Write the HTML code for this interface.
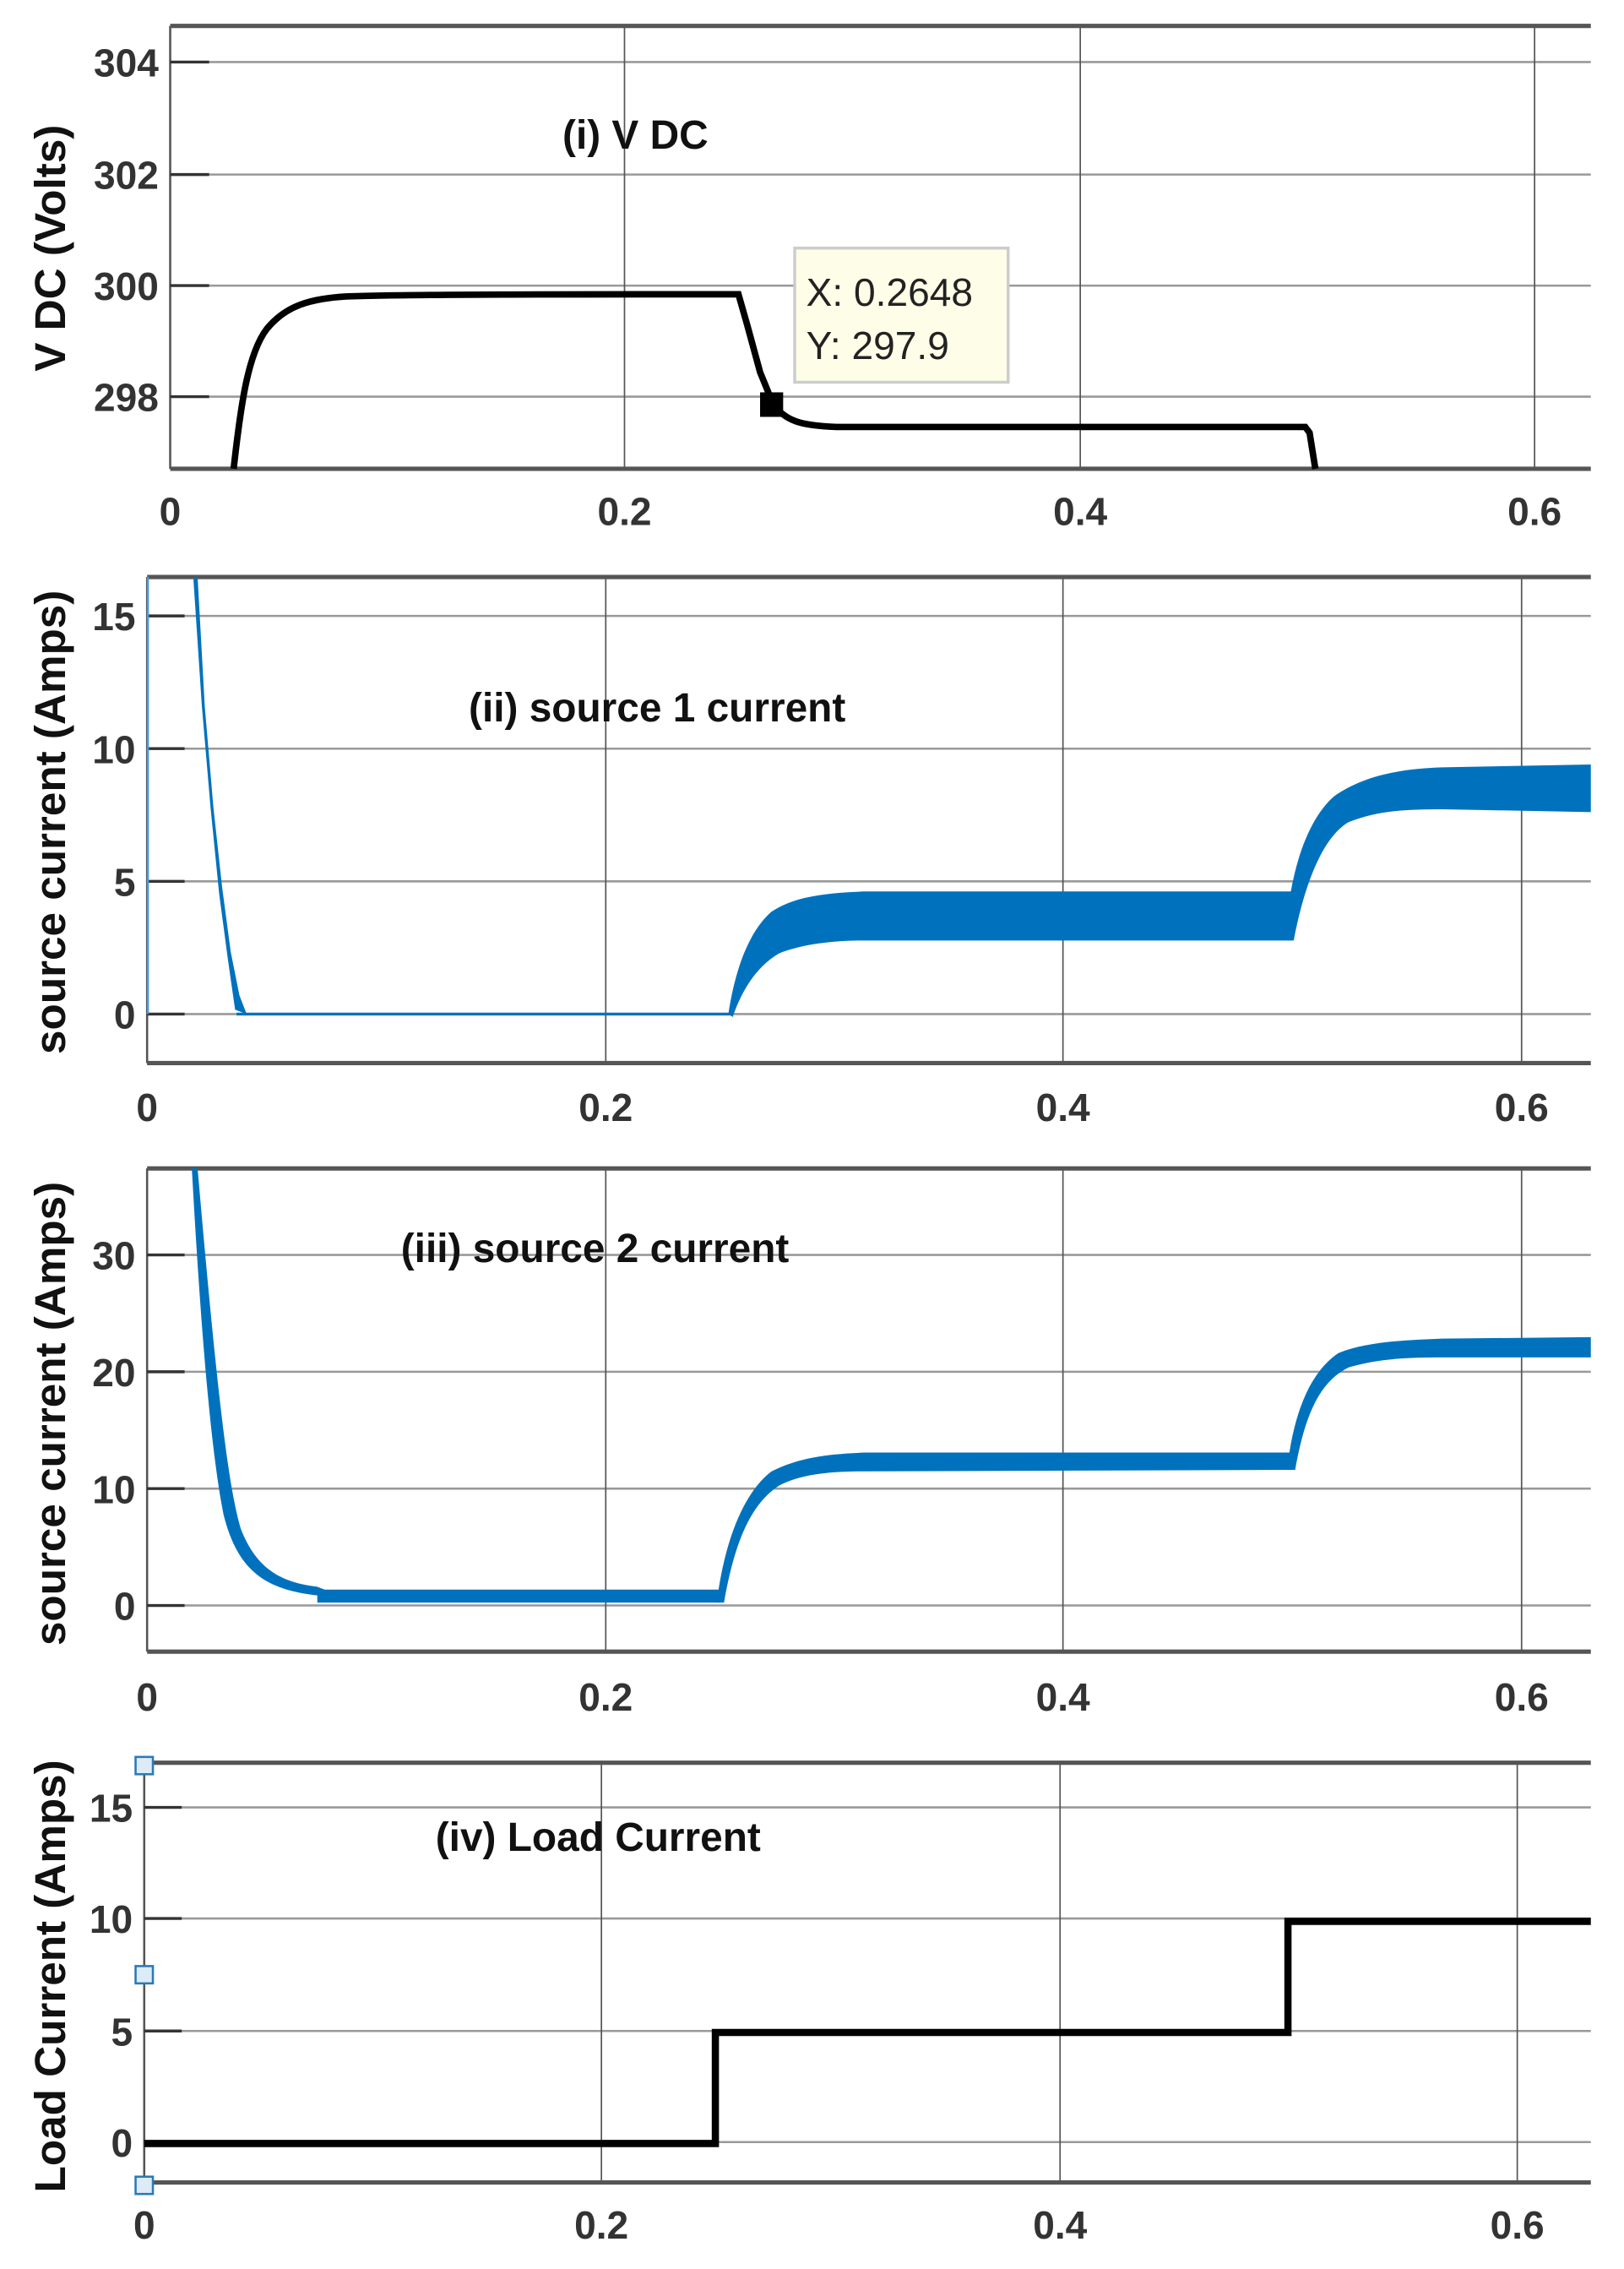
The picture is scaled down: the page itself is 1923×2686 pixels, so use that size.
<!DOCTYPE html>
<html><head><meta charset="utf-8"><style>
html,body{margin:0;padding:0;background:#fff;}
svg{display:block;}
text{font-family:"Liberation Sans",Arial,sans-serif;}
.t{font-size:27px;font-weight:bold;fill:#333;}
.tt{font-size:28px;font-weight:bold;fill:#111;}
.yl{font-size:30px;font-weight:bold;fill:#111;}
.g{stroke:#999;stroke-width:1.5;fill:none;}
.gv{stroke:#555;stroke-width:1;fill:none;}
.ax{stroke:#555;stroke-width:3;fill:none;}
</style></head><body>
<svg width="1923" height="2686" viewBox="0 0 1126 1573" preserveAspectRatio="none" xmlns="http://www.w3.org/2000/svg">
<!-- Panel 1 -->
<g>
<line class="g" x1="118" y1="43" x2="1103" y2="43"/><line class="g" x1="118" y1="121" x2="1103" y2="121"/>
<line class="g" x1="118" y1="198" x2="1103" y2="198"/><line class="g" x1="118" y1="275" x2="1103" y2="275"/>
<line class="gv" x1="433" y1="18" x2="433" y2="325"/><line class="gv" x1="749" y1="18" x2="749" y2="325"/><line class="gv" x1="1064" y1="18" x2="1064" y2="325"/>
<line class="ax" x1="118" y1="18" x2="1103" y2="18"/><line class="ax" x1="118" y1="325" x2="1103" y2="325"/><line stroke="#555" stroke-width="1.5" x1="118" y1="18" x2="118" y2="325"/>
<g stroke="#333" stroke-width="2"><line x1="118" y1="43" x2="145" y2="43"/><line x1="118" y1="121" x2="145" y2="121"/><line x1="118" y1="198" x2="145" y2="198"/><line x1="118" y1="275" x2="145" y2="275"/></g>
<g class="t" text-anchor="end"><text x="110" y="53">304</text><text x="110" y="131">302</text><text x="110" y="208">300</text><text x="110" y="285">298</text></g>
<g class="t" text-anchor="middle"><text x="118" y="364">0</text><text x="433" y="364">0.2</text><text x="749" y="364">0.4</text><text x="1064" y="364">0.6</text></g>
<path d="M162,325 C167,280 172,245 185,228 C198,212 215,207 240,205.5 C280,204 400,204 512,204 L518,225 L527,258 L536,280 C545,292 555,295 580,296 L905,296 L908,300 L912,325" stroke="#000" stroke-width="4.5" fill="none"/>
<rect x="551" y="172" width="148" height="93" fill="#fdfde8" stroke="#ccc" stroke-width="2"/>
<text x="559" y="212" style="font-size:27px;fill:#222">X: 0.2648</text>
<text x="559" y="249" style="font-size:27px;fill:#222">Y: 297.9</text>
<rect x="527" y="272" width="16" height="17" fill="#000"/>
<text class="tt" x="390" y="103">(i) V DC</text>
<text class="yl" transform="translate(45,172) rotate(-90)" text-anchor="middle">V DC (Volts)</text>
</g>
<!-- Panel 2 -->
<g>
<line class="g" x1="102" y1="427" x2="1103" y2="427"/><line class="g" x1="102" y1="519" x2="1103" y2="519"/>
<line class="g" x1="102" y1="611" x2="1103" y2="611"/><line class="g" x1="102" y1="703" x2="1103" y2="703"/>
<line class="gv" x1="420" y1="400" x2="420" y2="737"/><line class="gv" x1="737" y1="400" x2="737" y2="737"/><line class="gv" x1="1055" y1="400" x2="1055" y2="737"/>
<line class="ax" x1="102" y1="400" x2="1103" y2="400"/><line class="ax" x1="102" y1="737" x2="1103" y2="737"/><line stroke="#555" stroke-width="1.5" x1="102" y1="400" x2="102" y2="737"/>
<g stroke="#333" stroke-width="2"><line x1="102" y1="427" x2="128" y2="427"/><line x1="102" y1="519" x2="128" y2="519"/><line x1="102" y1="611" x2="128" y2="611"/><line x1="102" y1="703" x2="128" y2="703"/></g>
<g class="t" text-anchor="end"><text x="94" y="437">15</text><text x="94" y="529">10</text><text x="94" y="621">5</text><text x="94" y="713">0</text></g>
<g class="t" text-anchor="middle"><text x="102" y="777">0</text><text x="420" y="777">0.2</text><text x="737" y="777">0.4</text><text x="1055" y="777">0.6</text></g>
<line x1="102.5" y1="400" x2="102.5" y2="703" stroke="#4a9ad8" stroke-width="1.5"/>
<path d="M134,400 L140,490 L146,560 L152,620 L158,665 L163,700 L171,703 L166,690 L160,660 L154,615 L148,560 L142,490 L137,400 Z" fill="#0072BD"/>
<line x1="164" y1="703" x2="508" y2="703" stroke="#0072BD" stroke-width="2"/>
<path d="M505,703 C510,670 520,645 535,632 C550,622 570,619 600,618 L895,618 C900,590 910,565 925,552 C945,538 970,533 1000,532 L1103,530 L1103,563 L1000,561 C975,561 955,562 935,570 C918,580 905,610 897,652 L600,652 C575,652 555,655 540,661 C525,670 515,685 508,705 Z" fill="#0072BD"/>
<text class="tt" x="325" y="500">(ii) source 1 current</text>
<text class="yl" transform="translate(45,570) rotate(-90)" text-anchor="middle">source current (Amps)</text>
</g>
<!-- Panel 3 -->
<g>
<line class="g" x1="102" y1="870" x2="1103" y2="870"/><line class="g" x1="102" y1="951" x2="1103" y2="951"/>
<line class="g" x1="102" y1="1032" x2="1103" y2="1032"/><line class="g" x1="102" y1="1113" x2="1103" y2="1113"/>
<line class="gv" x1="420" y1="810" x2="420" y2="1145"/><line class="gv" x1="737" y1="810" x2="737" y2="1145"/><line class="gv" x1="1055" y1="810" x2="1055" y2="1145"/>
<line class="ax" x1="102" y1="810" x2="1103" y2="810"/><line class="ax" x1="102" y1="1145" x2="1103" y2="1145"/><line stroke="#555" stroke-width="1.5" x1="102" y1="810" x2="102" y2="1145"/>
<g stroke="#333" stroke-width="2"><line x1="102" y1="870" x2="128" y2="870"/><line x1="102" y1="951" x2="128" y2="951"/><line x1="102" y1="1032" x2="128" y2="1032"/><line x1="102" y1="1113" x2="128" y2="1113"/></g>
<g class="t" text-anchor="end"><text x="94" y="880">30</text><text x="94" y="961">20</text><text x="94" y="1042">10</text><text x="94" y="1123">0</text></g>
<g class="t" text-anchor="middle"><text x="102" y="1186">0</text><text x="420" y="1186">0.2</text><text x="737" y="1186">0.4</text><text x="1055" y="1186">0.6</text></g>
<path d="M133,810 C138,900 145,1000 155,1050 C165,1090 185,1102 220,1106 L230,1104 L220,1100 C195,1097 178,1088 167,1060 C158,1030 150,960 137,810 Z" fill="#0072BD"/>
<path d="M220,1102 L499,1102 L499,1111 L220,1111 Z" fill="#0072BD"/>
<path d="M497,1111 C502,1070 515,1035 535,1020 C555,1010 575,1008 600,1007 L894,1007 C899,975 910,950 928,938 C948,930 975,929 1000,928 L1103,927 L1103,941 L1000,941 C975,941 955,942 935,948 C915,958 905,980 898,1019 L600,1020 C575,1020 555,1022 540,1030 C522,1042 510,1065 502,1111 Z" fill="#0072BD"/>
<text class="tt" x="278" y="875">(iii) source 2 current</text>
<text class="yl" transform="translate(45,980) rotate(-90)" text-anchor="middle">source current (Amps)</text>
</g>
<!-- Panel 4 -->
<g>
<line class="g" x1="100" y1="1253" x2="1103" y2="1253"/><line class="g" x1="100" y1="1330" x2="1103" y2="1330"/>
<line class="g" x1="100" y1="1408" x2="1103" y2="1408"/><line class="g" x1="100" y1="1485" x2="1103" y2="1485"/>
<line class="gv" x1="417" y1="1222" x2="417" y2="1513"/><line class="gv" x1="735" y1="1222" x2="735" y2="1513"/><line class="gv" x1="1052" y1="1222" x2="1052" y2="1513"/>
<line class="ax" x1="100" y1="1222" x2="1103" y2="1222"/><line class="ax" x1="100" y1="1513" x2="1103" y2="1513"/><line stroke="#555" stroke-width="1.5" x1="100" y1="1222" x2="100" y2="1513"/>
<g stroke="#333" stroke-width="2"><line x1="100" y1="1253" x2="126" y2="1253"/><line x1="100" y1="1330" x2="126" y2="1330"/><line x1="100" y1="1408" x2="126" y2="1408"/><line x1="100" y1="1485" x2="126" y2="1485"/></g>
<g class="t" text-anchor="end"><text x="92" y="1263">15</text><text x="92" y="1340">10</text><text x="92" y="1418">5</text><text x="92" y="1495">0</text></g>
<g class="t" text-anchor="middle"><text x="100" y="1552">0</text><text x="417" y="1552">0.2</text><text x="735" y="1552">0.4</text><text x="1052" y="1552">0.6</text></g>
<path d="M100,1486 L496,1486 L496,1409 L893,1409 L893,1332 L1103,1332" stroke="#000" stroke-width="5" fill="none"/>
<g fill="#dcebf7" stroke="#2a7ab8" stroke-width="1.5"><rect x="94" y="1218" width="12" height="12"/><rect x="94" y="1363" width="12" height="12"/><rect x="94" y="1509" width="12" height="12"/></g>
<text class="tt" x="302" y="1283">(iv) Load Current</text>
<text class="yl" transform="translate(45,1370) rotate(-90)" text-anchor="middle">Load Current (Amps)</text>
</g>
</svg>
</body></html>
